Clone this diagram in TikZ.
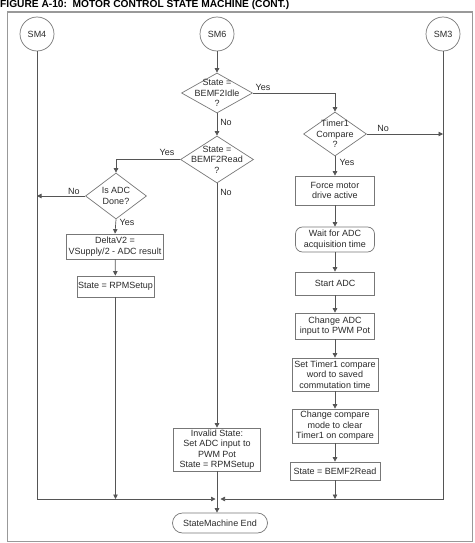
\documentclass[tikz,border=0pt]{standalone}
\usepackage{fontspec}
\setmainfont{Liberation Sans}
\usetikzlibrary{shapes.geometric,arrows.meta}
\definecolor{ln}{HTML}{555555}
\definecolor{bd}{HTML}{777777}
\definecolor{fr}{HTML}{999999}
\definecolor{tx}{HTML}{2a2a2a}
\begin{document}
\begin{tikzpicture}[x=1pt,y=-1pt,
 every node/.style={font=\fontsize{9}{10.5}\selectfont, text=tx},
 conn/.style={draw=ln, line width=0.7pt},
 arr/.style={conn,-{Triangle[length=4.5pt,width=4.5pt]}},
 box/.style={draw=bd, line width=0.7pt, align=center, inner sep=0pt, fill=white},
 rbox/.style={box, rounded corners=7pt},
 circ/.style={draw=bd, line width=0.7pt, circle, minimum size=34pt, inner sep=0pt},
 dia/.style={draw=bd, diamond, inner sep=0pt, line width=0.7pt},
 dtxt/.style={align=center, inner sep=0pt},
 lbl/.style={inner sep=0pt}]
\useasboundingbox (0,0) rectangle (474,543);
% title and frame
\node[anchor=north west, inner sep=0pt, font=\fontsize{10.2}{12}\bfseries\selectfont, text=black] (title) at (0,-0.5) {FIGURE A-10:\ \ MOTOR CONTROL STATE MACHINE (CONT.)};
\draw[draw=fr, line width=1.6pt] (7.5,12) rectangle (472.5,541.5);
% connectors
\node[circ] (sm4) at (37,34) {SM4};
\node[circ] (sm6) at (217,34) {SM6};
\node[circ] (sm3) at (443,34) {SM3};
% diamonds
\node[dia, minimum width=71pt, minimum height=40pt] (d1) at (217,93) {};
\node[dtxt] (d1t) at (d1) {State =\\BEMF2Idle\\?};
\node[dia, minimum width=73pt, minimum height=47pt] (d2) at (217,159.5) {};
\node[dtxt] (d2t) at (d2) {State =\\BEMF2Read\\?};
\node[dia, minimum width=63pt, minimum height=44pt] (d3) at (335,134) {};
\node[dtxt] (d3t) at (d3) {Timer1\\Compare\\?};
\node[dia, minimum width=61pt, minimum height=46pt] (adc) at (116,196) {};
\node[dtxt] (adct) at (adc) {Is ADC\\Done?};
% left boxes
\node[box, minimum width=97pt, minimum height=25pt] (delta) at (115,246.5) {DeltaV2 =\\VSupply/2 - ADC result};
\node[box, minimum width=77pt, minimum height=21pt] (rpm) at (115.5,286.5) {State = RPMSetup};
% right boxes
\node[box, minimum width=79pt, minimum height=29pt] (force) at (335,190.5) {Force motor\\drive active};
\node[rbox, minimum width=79pt, minimum height=25pt] (wait) at (335,239.5) {Wait for ADC\\acquisition time};
\node[box, minimum width=79pt, minimum height=23pt] (start) at (335,283.5) {Start ADC};
\node[box, minimum width=79pt, minimum height=26pt] (chadc) at (335,326) {Change ADC\\input to PWM Pot};
\node[box, minimum width=86pt, minimum height=33pt] (settim) at (335,374.5) {Set Timer1 compare\\word to saved\\commutation time};
\node[box, minimum width=86pt, minimum height=34pt] (chcomp) at (335,426) {Change compare\\mode to clear\\Timer1 on compare};
\node[box, minimum width=90pt, minimum height=18pt] (bread) at (335,471) {State = BEMF2Read};
% centre boxes
\node[box, minimum width=87pt, minimum height=43pt] (invalid) at (217,449.5) {Invalid State:\\Set ADC input to\\PWM Pot\\State = RPMSetup};
\node[box, rounded corners=10pt, minimum width=95pt, minimum height=20pt] (end) at (220,523) {StateMachine End};
% coordinates
\coordinate (c1) at (335,93);
\coordinate (c2) at (116,159.5);
\coordinate (r1) at (443,134);
\coordinate (l1) at (37,196);
\coordinate (bl) at (37,499);
\coordinate (br) at (443,499);
\coordinate (ml) at (215.5,499);
\coordinate (mr) at (220.5,499);
\coordinate (b1) at (115.5,499);
\coordinate (b2) at (335,499);
% lines
\draw[arr] (sm6) -- (d1.north);
\draw[arr] (d1.east) -- (c1) -- (d3.north);
\draw[arr] (d1.south) -- (d2.north);
\draw[arr] (d3.east) -- (r1);
\draw[arr] (d3.south) -- (force.north);
\draw[arr] (force) -- (wait);
\draw[arr] (wait) -- (start);
\draw[arr] (start) -- (chadc);
\draw[arr] (chadc) -- (settim);
\draw[arr] (settim) -- (chcomp);
\draw[arr] (chcomp) -- (bread);
\draw[arr] (bread) -- (b2);
\draw[arr] (d2.west) -- (c2) -- (adc.north);
\draw[arr] (d2.south) -- (invalid.north);
\draw[arr] (adc.west) -- (l1);
\draw[arr] (adc.south) -- (delta.north);
\draw[arr] (delta) -- (rpm);
\draw[arr] (rpm) -- (b1);
\draw[arr] (sm4) -- (bl) -- (ml);
\draw[arr] (sm3) -- (br) -- (mr);
\draw[arr] (invalid.south) -- (invalid.south |- end.north);
% labels
\node[lbl] (y1) at (263,87) {Yes};
\node[lbl] (n1) at (226,122) {No};
\node[lbl] (n2) at (383,128) {No};
\node[lbl] (y2) at (347,162) {Yes};
\node[lbl] (y3) at (167,152) {Yes};
\node[lbl] (n3) at (226,192) {No};
\node[lbl] (n4) at (74,191) {No};
\node[lbl] (y4) at (127,222) {Yes};
\end{tikzpicture}
\end{document}
